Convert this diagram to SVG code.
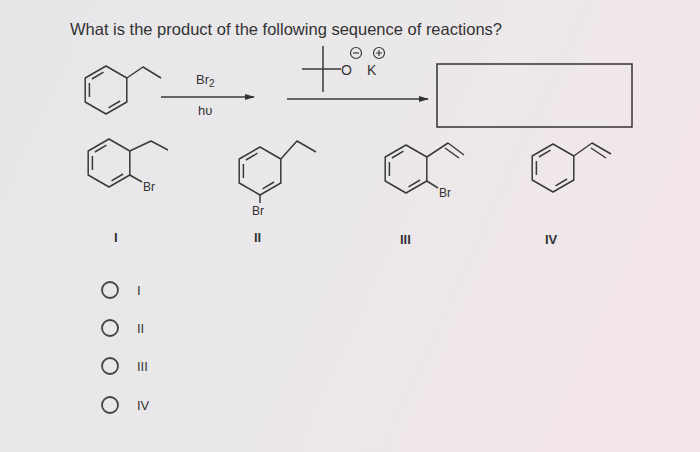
<svg xmlns="http://www.w3.org/2000/svg" width="700" height="452" viewBox="0 0 700 452">
<defs>
<linearGradient id="bg" x1="0" y1="0" x2="1" y2="0.3"><stop offset="0" stop-color="#e6e6e8"/><stop offset="0.6" stop-color="#ebe8ea"/><stop offset="1" stop-color="#f2e6e8"/></linearGradient>
<g id="ring"><path d="M0,-24 L20.8,-12 L20.8,12 L0,24 L-20.8,12 L-20.8,-12 Z M-16.6,-7 L-16.6,7 M-14.1,-11 L-2.5,-17.8 M14.1,11 L2.5,17.8"/></g>
<marker id="ah" markerWidth="10" markerHeight="8" refX="9" refY="4" orient="auto" markerUnits="userSpaceOnUse"><path d="M0,1 L10,4 L0,7 Z" fill="#333"/></marker>
</defs>
<style>
.b{fill:none;stroke:#3a3a3a;stroke-width:1.5;stroke-linejoin:round}
text{font-family:"Liberation Sans",Arial,sans-serif;fill:#333}
.s{font-size:13px}
.br{font-size:12px}
.l{font-size:13px;font-weight:bold}
.r{fill:none;stroke:#444;stroke-width:1.8}
</style>
<rect width="700" height="452" fill="url(#bg)"/>
<text x="70" y="35" font-size="16.5">What is the product of the following sequence of reactions?</text>
<g id="start" class="b"><use href="#ring" x="106" y="90"/><path d="M126.8,78 L143,67 L161,78"/></g>
<g id="reagent1"><text class="s" x="196" y="84">Br<tspan font-size="10" dy="3">2</tspan></text><text class="s" x="198" y="115">hυ</text></g>
<g id="reagent2" class="b"><path d="M323,46 V92 M302,69 H341"/><circle cx="356" cy="53" r="5.5" stroke-width="1.2"/><path d="M353,53 H359" stroke-width="1.2"/><circle cx="379" cy="53" r="5.5" stroke-width="1.2"/><path d="M376,53 H382 M379,50 V56" stroke-width="1.2"/></g>
<text x="341" y="75" font-size="14">O</text><text x="367" y="75" font-size="14">K</text>
<g id="connectors" class="b"><path d="M161,97 H254" marker-end="url(#ah)"/><path d="M287,99 H428" marker-end="url(#ah)"/></g>
<g id="answerbox"><rect x="437" y="64" width="195" height="63" fill="none" stroke="#333" stroke-width="1.5"/></g>
<g id="p1" class="b"><use href="#ring" x="109" y="163"/><path d="M129.8,151 L151,141 L168,150 M129.8,175 L142,182"/></g>
<text class="br" x="143" y="191">Br</text>
<g id="p2" class="b"><use href="#ring" x="260" y="171"/><path d="M280.8,159 L297,141 L316,152 M260,195 V203"/></g>
<text class="br" x="252" y="215">Br</text>
<g id="p3" class="b"><use href="#ring" x="406" y="169"/><path d="M426.8,157 L448,143 L464,155 M445,148 L459,158 M426.8,181 L438,188"/></g>
<text class="br" x="439" y="197">Br</text>
<g id="p4" class="b"><use href="#ring" x="553" y="168"/><path d="M573.8,156 L592,143 L611,154 M591,148 L606,158"/></g>
<text class="l" x="114" y="242">I</text><text class="l" x="254" y="242">II</text><text class="l" x="400" y="244">III</text><text class="l" x="545" y="244">IV</text>
<g id="options">
<circle class="r" cx="110" cy="290" r="8"/><text class="s" x="137" y="295">I</text>
<circle class="r" cx="110" cy="328" r="8"/><text class="s" x="137" y="333">II</text>
<circle class="r" cx="110" cy="366" r="8"/><text class="s" x="137" y="371">III</text>
<circle class="r" cx="110" cy="405" r="8"/><text class="s" x="137" y="410">IV</text>
</g>
</svg>
